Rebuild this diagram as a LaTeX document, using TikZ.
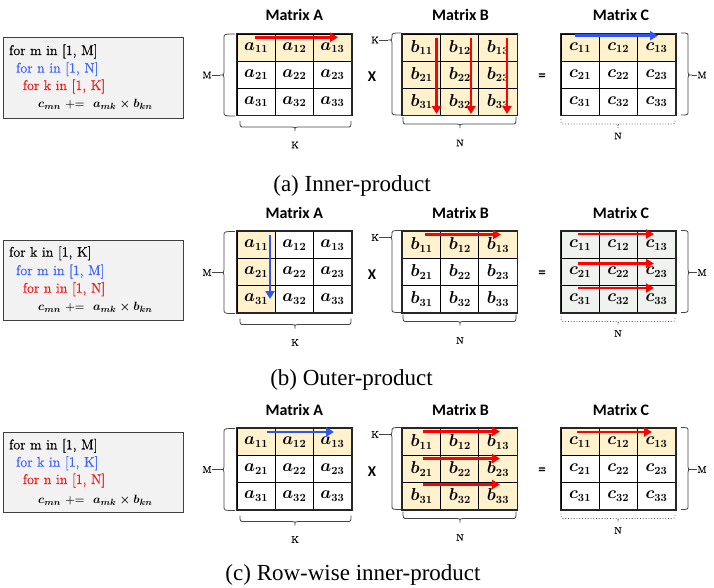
\documentclass[tikz,border=0pt]{standalone}
\usepackage{fontspec}
\usetikzlibrary{arrows.meta}
\newfontfamily\capfont{Liberation Serif}
\newfontfamily\ttlfont{Carlito}
\newfontfamily\codefont{Latin Modern Roman}[FakeBold=0.7]
\definecolor{ylw}{HTML}{FFF2CC}
\definecolor{boxgray}{HTML}{F2F2F2}
\definecolor{cgray}{HTML}{F0F2F0}
\definecolor{codeblue}{HTML}{3D63FF}
\definecolor{codered}{HTML}{F51A1A}
\definecolor{arrblue}{HTML}{2F55EE}
\definecolor{arrred}{HTML}{FF0000}
\definecolor{bordergray}{HTML}{404040}
\definecolor{bracegray}{HTML}{454545}
\tikzset{
 cell/.style={draw=black, line width=0.9pt, minimum width=38.2pt, minimum height=27pt, inner sep=0pt, font=\fontsize{16}{18}\selectfont\boldmath},
 outer/.style={draw=black!85, line width=1.4pt},
 ttl/.style={font=\ttlfont\bfseries\fontsize{16}{18}\selectfont, inner sep=0pt},
 opsym/.style={font=\ttlfont\bfseries\fontsize{15}{17}\selectfont, inner sep=0pt},
 dimlbl/.style={font=\codefont\fontsize{9.5}{11}\selectfont, inner sep=0pt},
 brc/.style={draw=bracegray, line width=0.8pt},
 codebox/.style={draw=bordergray, fill=boxgray, line width=1.1pt, anchor=north west, minimum width=180.3pt, inner sep=0pt},
 code/.style={font=\codefont\fontsize{14}{16}\selectfont, inner sep=0pt, anchor=base west},
 codem/.style={font=\fontsize{13}{15}\selectfont\boldmath, inner sep=0pt, anchor=base west},
 rarr/.style={draw=arrred, line width=2.6pt, -{Triangle[length=8pt,width=9pt]}},
 barr/.style={draw=arrblue, line width=2.4pt, -{Triangle[length=8pt,width=9pt]}},
 capt/.style={font=\capfont\fontsize{23}{26}\selectfont, inner sep=0pt, anchor=base},
}
% grid of 3x3 cells: #1 prefix, #2 letter, #3 left x, #4 top y
\newcommand\mgrid[4]{%
 \foreach \i in {1,2,3}{\foreach \j in {1,2,3}{%
   \node[cell] (#1\i\j) at ({#3+19.1+38.2*(\j-1)},{#4+13.5+27*(\i-1)}) {$#2_{\i\j}$};}}
 \draw[outer] (#111.north west) rectangle (#133.south east);}
% left brace: #1 tip name, #2 end x, #3 line x, #4 top, #5 bottom, #6 tip y
\newcommand\bracel[6]{%
 \draw[brc] (#2,#4) .. controls (#3,#4) .. (#3,#4+4) -- (#3,#6-3) .. controls (#3,#6) .. (#3-4,#6) coordinate (#1) .. controls (#3,#6) .. (#3,#6+3) -- (#3,#5-4) .. controls (#3,#5) .. (#2,#5);}
% right brace
\newcommand\bracer[6]{%
 \draw[brc] (#2,#4) .. controls (#3,#4) .. (#3,#4+4) -- (#3,#6-3) .. controls (#3,#6) .. (#3+4,#6) coordinate (#1) .. controls (#3,#6) .. (#3,#6+3) -- (#3,#5-4) .. controls (#3,#5) .. (#2,#5);}
% bottom brace: #1 tip name, #2 left x, #3 right x, #4 end y, #5 line y, #6 tip x, #7 extra style
\newcommand\braceb[7]{%
 \draw[brc,#7] (#2,#4) .. controls (#2,#5) .. (#2+4,#5) -- (#6-3,#5) .. controls (#6,#5) .. (#6,#5+4) coordinate (#1) .. controls (#6,#5) .. (#6+3,#5) -- (#3-4,#5) .. controls (#3,#5) .. (#3,#4);}
% one row: #1 prefix, #2 top y
\newcommand\rowskel[2]{%
 \node[ttl] (#1tA) at (294.3,#2-19) {Matrix A};
 \node[ttl] (#1tB) at (460.5,#2-19) {Matrix B};
 \node[ttl] (#1tC) at (621,#2-19) {Matrix C};
 \mgrid{#1A}{a}{237}{#2}
 \mgrid{#1B}{b}{402.5}{#2}
 \mgrid{#1C}{c}{561}{#2}
 \node[opsym] (#1x) at (372,#2+43) {X};
 \node[opsym] (#1eq) at (542,#2+43) {=};
 \bracel{#1tAM}{235}{224}{#2}{#2+82}{#2+41}
 \node[dimlbl] (#1lAM) at (207,#2+41) {M};
 \draw[brc] (#1lAM.east) -- (#1tAM);
 \braceb{#1tAK}{240}{351}{#2+87}{#2+93}{295}{}
 \node[dimlbl] (#1lAK) at (295,#2+111) {K};
 \bracel{#1tBK}{401}{392}{#2-1}{#2+81}{#2+6}
 \node[dimlbl] (#1lBK) at (375,#2+6) {K};
 \draw[brc] (#1lBK.east) -- (#1tBK);
 \braceb{#1tBN}{403}{516}{#2+83}{#2+90}{460}{}
 \node[dimlbl] (#1lBN) at (460,#2+109) {N};
 \bracer{#1tCM}{681}{688}{#2-1}{#2+81}{#2+41}
 \node[dimlbl] (#1lCM) at (702,#2+41) {M};
 \draw[brc] (#1tCM) -- (#1lCM.west);
 \braceb{#1tCN}{561}{675}{#2+85}{#2+90}{618}{dotted}
 \node[dimlbl] (#1lCN) at (618,#2+102) {N};
}
\begin{document}
\begin{tikzpicture}[x=1pt,y=-1pt]
\useasboundingbox (0,0) rectangle (714,588);
% ---------------- (a) ----------------
\node[codebox, minimum height=81.6pt] (boxa) at (2.7,36.7) {};
\node[code] (a1) at (9,55) {for m in [1, M]};
\node[code, text=codeblue] (a2) at (16,72.6) {for n in [1, N]};
\node[code, text=codered] (a3) at (22.7,90) {for k in [1, K]};
\node[codem] (a4) at (38,107.5) {$c_{mn}$ {\fontsize{11}{12}\selectfont\bfseries +=}\ \ $a_{mk}\times b_{kn}$};
\fill[ylw] (237,34) rectangle (351.6,61);
\fill[ylw] (402.5,34) rectangle (517.1,115);
\fill[ylw] (561,34) rectangle (675.6,61);
\rowskel{a}{34}
\coordinate (aArS) at (255,37.3); \coordinate (aArE) at (338,37.3);
\draw[rarr] (aArS) -- (aArE);
\coordinate (aBr1S) at (436.5,38); \coordinate (aBr1E) at (436.5,114);
\coordinate (aBr2S) at (471,38); \coordinate (aBr2E) at (471,114);
\coordinate (aBr3S) at (507,38); \coordinate (aBr3E) at (507,114);
\draw[rarr] (aBr1S) -- (aBr1E);
\draw[rarr] (aBr2S) -- (aBr2E);
\draw[rarr] (aBr3S) -- (aBr3E);
\coordinate (aCrS) at (575,35.7); \coordinate (aCrE) at (658,35.7);
\draw[barr] (aCrS) -- (aCrE);
\node[capt] (capa) at (352,191.7) {(a) Inner-product};
% ---------------- (b) ----------------
\node[codebox, minimum height=80pt] (boxb) at (2.7,240) {};
\node[code] (b1) at (9,256.7) {for k in [1, K]};
\node[code, text=codeblue] (b2) at (16,275) {for m in [1, M]};
\node[code, text=codered] (b3) at (22.7,292.7) {for n in [1, N]};
\node[codem] (b4) at (38,310.7) {$c_{mn}$ {\fontsize{11}{12}\selectfont\bfseries +=}\ \ $a_{mk}\times b_{kn}$};
\fill[ylw] (237,231.5) rectangle (275.2,312.5);
\fill[ylw] (402.5,231.5) rectangle (517.1,258.5);
\fill[cgray] (561,231.5) rectangle (675.6,312.5);
\rowskel{b}{231.5}
\coordinate (bArS) at (270,235); \coordinate (bArE) at (270,299);
\draw[barr] (bArS) -- (bArE);
\coordinate (bBrS) at (425,234.5); \coordinate (bBrE) at (501,234.5);
\draw[rarr] (bBrS) -- (bBrE);
\coordinate (bCr1S) at (578,234); \coordinate (bCr1E) at (654,234);
\coordinate (bCr2S) at (578,263.5); \coordinate (bCr2E) at (654,263.5);
\coordinate (bCr3S) at (578,288); \coordinate (bCr3E) at (654,288);
\draw[rarr] (bCr1S) -- (bCr1E);
\draw[rarr] (bCr2S) -- (bCr2E);
\draw[rarr] (bCr3S) -- (bCr3E);
\node[capt] (capb) at (351.5,385) {(b) Outer-product};
% ---------------- (c) ----------------
\node[codebox, minimum height=80pt] (boxc) at (2.7,431.7) {};
\node[code] (c1) at (9,449.3) {for m in [1, M]};
\node[code, text=codeblue] (c2) at (16,466.7) {for k in [1, K]};
\node[code, text=codered] (c3) at (22.7,484) {for n in [1, N]};
\node[codem] (c4) at (38,503.3) {$c_{mn}$ {\fontsize{11}{12}\selectfont\bfseries +=}\ \ $a_{mk}\times b_{kn}$};
\fill[ylw] (237,428.5) rectangle (351.6,455.5);
\fill[ylw] (402.5,428.5) rectangle (517.1,509.5);
\fill[ylw] (561,428.5) rectangle (675.6,455.5);
\rowskel{c}{428.5}
\coordinate (cArS) at (267,432); \coordinate (cArE) at (334,432);
\draw[barr] (cArS) -- (cArE);
\coordinate (cBr1S) at (423,431.5); \coordinate (cBr1E) at (500,431.5);
\coordinate (cBr2S) at (423,458.5); \coordinate (cBr2E) at (500,458.5);
\coordinate (cBr3S) at (423,484.5); \coordinate (cBr3E) at (500,484.5);
\draw[rarr] (cBr1S) -- (cBr1E);
\draw[rarr] (cBr2S) -- (cBr2E);
\draw[rarr] (cBr3S) -- (cBr3E);
\coordinate (cCrS) at (577,432); \coordinate (cCrE) at (652,432);
\draw[rarr] (cCrS) -- (cCrE);
\node[capt] (capc) at (353,580) {(c) Row-wise inner-product};
\end{tikzpicture}
\end{document}
